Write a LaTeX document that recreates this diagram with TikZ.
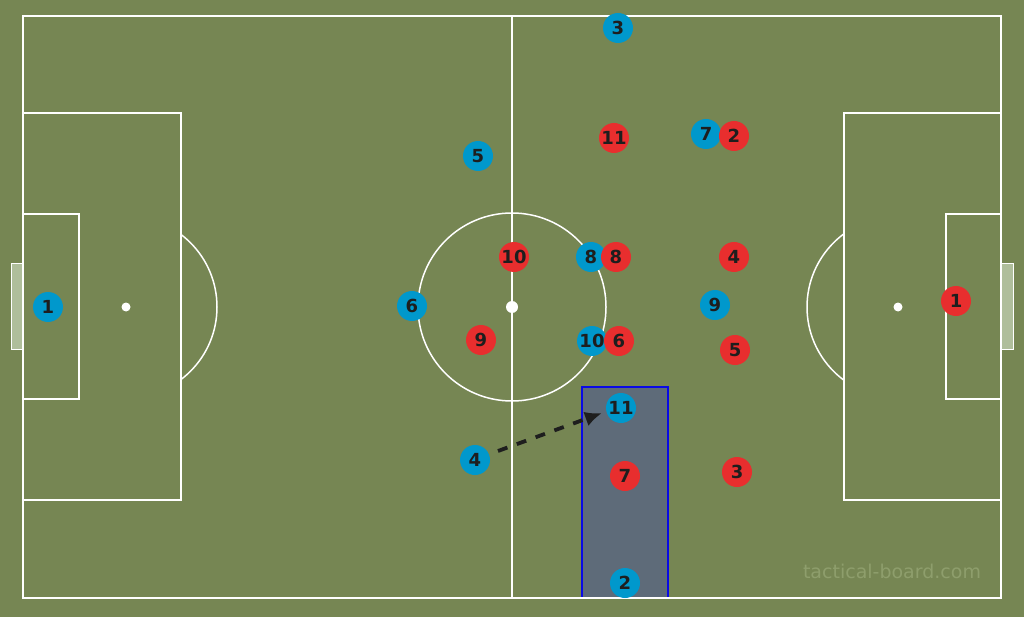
\documentclass[tikz,border=0pt]{standalone}
\usepackage{fontspec}
\setmainfont{DejaVu Sans}
\usetikzlibrary{arrows.meta}
\definecolor{pitch}{RGB}{118,134,83}
\definecolor{bluep}{RGB}{0,152,204}
\definecolor{redp}{RGB}{232,46,46}
\definecolor{zone}{RGB}{94,107,121}
\definecolor{zoneedge}{RGB}{10,10,230}
\definecolor{goalf}{RGB}{175,190,155}
\definecolor{wm}{RGB}{142,158,108}
\definecolor{ink}{RGB}{30,30,30}
\tikzset{
  pline/.style={draw=white,line width=1.5pt},
  blueplayer/.style={circle,fill=bluep,minimum size=30pt,inner sep=0pt,font=\bfseries\fontsize{18}{18}\selectfont,text=ink},
  redplayer/.style={circle,fill=redp,minimum size=30pt,inner sep=0pt,font=\bfseries\fontsize{18}{18}\selectfont,text=ink},
  runarrow/.style={draw=ink,line width=3.8pt,dash pattern=on 10pt off 10pt,-{Latex[length=17pt,width=15pt]}}
}
\begin{document}
\begin{tikzpicture}[x=1pt,y=-1pt]
\useasboundingbox (0,0) rectangle (1024,617);
\fill[pitch] (0,0) rectangle (1024,617);
% goals
\filldraw[fill=goalf,draw=white,line width=1pt] (11,264) rectangle (23,349);
\filldraw[fill=goalf,draw=white,line width=1pt] (1001,264) rectangle (1013,349);
% zone
\filldraw[fill=zone,draw=zoneedge,line width=1.6pt] (582,387) rectangle (668,598);
% pitch lines
\draw[pline] (23,16) rectangle (1001,598);
\draw[pline] (512,16) -- (512,598);
\draw[pline] (512,307) circle (94);
\draw[pline] (23,113) rectangle (181,500);
\draw[pline] (23,214) rectangle (79,399);
\draw[pline] (1001,113) rectangle (844,500);
\draw[pline] (1001,214) rectangle (946,399);
% penalty arcs
\begin{scope}
\clip (181,0) rectangle (300,617);
\draw[pline] (126,307) circle (91);
\end{scope}
\begin{scope}
\clip (700,0) rectangle (844,617);
\draw[pline] (898,307) circle (91);
\end{scope}
\fill[white] (512,307) circle (6);
\fill[white] (126,307) circle (4.5);
\fill[white] (898,307) circle (4.5);
% watermark
\node[text=wm,font=\fontsize{19}{19}\selectfont] (wmark) at (892,571) {tactical-board.com};
% blue players
\node[blueplayer] (b1) at (48,307) {1};
\node[blueplayer] (b3) at (618,28) {3};
\node[blueplayer] (b5) at (478,156) {5};
\node[blueplayer] (b6) at (412,306) {6};
\node[blueplayer] (b7) at (706,134) {7};
\node[blueplayer] (b8) at (591,257) {8};
\node[blueplayer] (b9) at (715,305) {9};
\node[blueplayer] (b10) at (592,341) {10};
\node[blueplayer] (b11) at (621,408) {11};
\node[blueplayer] (b4) at (475,460) {4};
\node[blueplayer] (b2) at (625,583) {2};
% red players
\node[redplayer] (r11) at (614,138) {11};
\node[redplayer] (r2) at (734,136) {2};
\node[redplayer] (r10) at (514,257) {10};
\node[redplayer] (r8) at (616,257) {8};
\node[redplayer] (r4) at (734,257) {4};
\node[redplayer] (r1) at (956,301) {1};
\node[redplayer] (r9) at (481,340) {9};
\node[redplayer] (r6) at (619,341) {6};
\node[redplayer] (r5) at (735,350) {5};
\node[redplayer] (r7) at (625,476) {7};
\node[redplayer] (r3) at (737,472) {3};
% run
\coordinate (runstart) at (498,451);
\coordinate (runend) at (602,413);
\draw[runarrow] (runstart) -- (runend);
\end{tikzpicture}
\end{document}
